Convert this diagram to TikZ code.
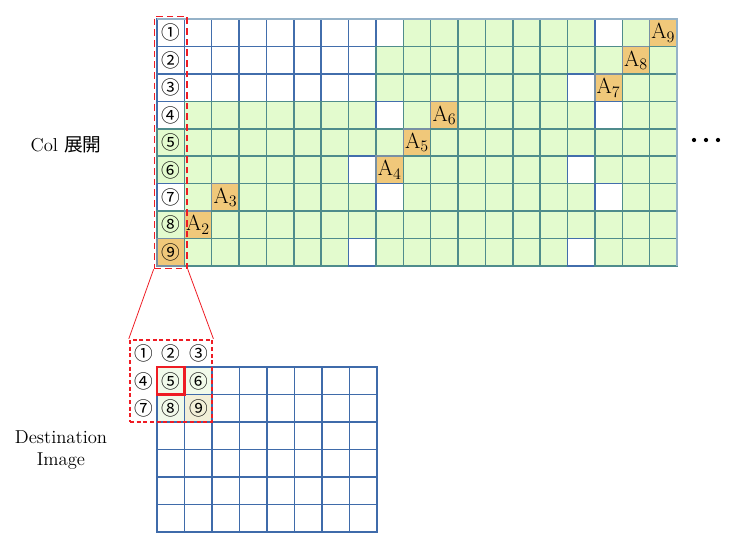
\documentclass[tikz,border=0pt]{standalone}
\usepackage{fontspec}
\newfontfamily\cjk{Noto Sans CJK JP}
\usetikzlibrary{fit}
\definecolor{cgreen}{HTML}{E3FBCE}
\definecolor{corange}{HTML}{F0C87A}
\definecolor{gline}{HTML}{4F8C8C}
\definecolor{bline}{HTML}{426EAC}
\definecolor{oline}{HTML}{7890A4}
\definecolor{framec}{HTML}{95B2C8}
\definecolor{dblue}{HTML}{3F6BAA}
\definecolor{redl}{HTML}{EE1C24}
\definecolor{lgreen}{HTML}{F1FAEA}
\definecolor{lbeige}{HTML}{F2EFD8}
\begin{document}
\begin{tikzpicture}[x=0.75pt,y=-0.75pt,
  cell/.style={rectangle, inner sep=0pt, outer sep=0pt, minimum width=20.53pt,
    minimum height=20.58pt, anchor=north west, line width=1.1pt},
  cellW/.style={fill=white, draw=bline},
  cellG/.style={fill=cgreen, draw=gline},
  cellO/.style={fill=corange, draw=oline},
  circnum/.style={font=\cjk\fontsize{14}{14}\selectfont, inner sep=0pt},
  alabel/.style={font=\fontsize{16.5}{16.5}\selectfont, inner sep=0pt},
  dcell/.style={rectangle, inner sep=0pt, outer sep=0pt, minimum width=20.625pt,
    minimum height=20.625pt, anchor=north west, draw=dblue, line width=1.1pt},
  d11/.style={fill=lgreen}, d12/.style={fill=lgreen}, d21/.style={fill=lgreen},
  d22/.style={fill=lbeige},
  wcell/.style={rectangle, inner sep=0pt, outer sep=0pt, minimum width=20.55pt,
    minimum height=20.55pt, anchor=north west, font=\cjk\fontsize{14}{14}\selectfont},
  redbox/.style={draw=redl, line width=1.8pt, dash pattern=on 3pt off 2pt},
  colbox/.style={draw=redl, line width=1.1pt, dash pattern=on 5pt off 3pt},
  redlink/.style={draw=redl, line width=0.6pt},
  lbl/.style={font=\fontsize{14}{17}\selectfont, inner sep=0pt},
  dot/.style={circle, fill=black, inner sep=0pt, minimum size=3.2pt}
]
\useasboundingbox (0,0) rectangle (737,547);

% ---- top im2col grid ----
\foreach \lst [count=\r] in {
 {W,W,W,W,W,W,W,W,W,G,G,G,G,G,G,G,W,G,O},
 {W,W,W,W,W,W,W,W,G,G,G,G,G,G,G,G,G,O,G},
 {W,W,W,W,W,W,W,W,G,G,G,G,G,G,G,W,O,G,G},
 {W,G,G,G,G,G,G,G,W,G,O,G,G,G,G,G,W,G,G},
 {G,G,G,G,G,G,G,G,G,O,G,G,G,G,G,G,G,G,G},
 {G,G,G,G,G,G,G,W,O,G,G,G,G,G,G,W,G,G,G},
 {W,G,O,G,G,G,G,G,W,G,G,G,G,G,G,G,W,G,G},
 {G,O,G,G,G,G,G,G,G,G,G,G,G,G,G,G,G,G,G},
 {O,G,G,G,G,G,G,W,G,G,G,G,G,G,G,W,G,G,G}}
{
  \foreach \t [count=\c from 0] in \lst {
    \node[cell, cell\t] (c-\r-\c) at ({157+\c*27.37},{19+(\r-1)*27.44}) {};
  }
}
\draw[framec, line width=1.6pt] (c-1-0.north west) -- (c-1-18.north east) -- (c-9-18.south east);

\foreach \r/\s in {1/①,2/②,3/③,4/④,5/⑤,6/⑥,7/⑦,8/⑧,9/⑨}
  \node[circnum] (n-\r) at (c-\r-0) {\s};

\foreach \r/\c/\k in {1/18/9,2/17/8,3/16/7,4/10/6,5/9/5,6/8/4,7/2/3,8/1/2}
  \node[alabel] (a-\k) at (c-\r-\c) {$\mathrm{A}_{\k}$};

\node[colbox, fit=(c-1-0)(c-9-0), inner sep=2pt] (colbox) {};

\node[dot] (dot1) at (694,140) {};
\node[dot] (dot2) at (706,140) {};
\node[dot] (dot3) at (718,140) {};

% ---- destination image ----
\foreach \r in {1,...,6}
  \foreach \c in {1,...,8}
    \node[dcell, d\r\c/.try] (d-\r-\c) at ({157+(\c-1)*27.5},{367+(\r-1)*27.5}) {};
\draw[dblue, line width=2pt] (d-1-1.north west) rectangle (d-6-8.south east);
\draw[redl, line width=1.8pt] (d-1-1.north west) rectangle (d-1-1.south east);

\foreach \r/\c/\s in {1/1/①,1/2/②,1/3/③,2/1/④,2/2/⑤,2/3/⑥,3/1/⑦,3/2/⑧,3/3/⑨}
  \node[wcell] (w-\r-\c) at ({130+(\c-1)*27.4},{340+(\r-1)*27.4}) {\s};

\node[redbox, fit=(w-1-1)(w-3-3), inner sep=0pt] (win) {};

\draw[redlink] (colbox.south west) -- (win.north west);
\draw[redlink] (colbox.south east) -- (win.north east);

% ---- labels ----
\node[lbl] (collabel) at (66,145) {Col {\cjk 展開}};
\node[lbl, align=center] (dest) at (61,450) {Destination\\Image};
\end{tikzpicture}
\end{document}
